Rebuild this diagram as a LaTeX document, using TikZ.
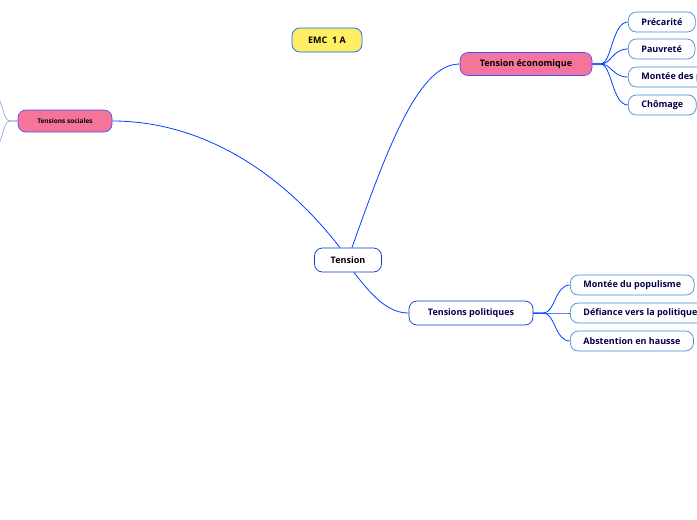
\documentclass[tikz,border=0pt]{standalone}
\usepackage{fontspec}
\setmainfont{Open Sans}
\begin{document}
\begin{tikzpicture}[x=1pt,y=-1pt,
  box/.style={draw=blue!70!cyan!80!black, line width=0.7pt, rounded corners=8pt, fill=white, minimum height=21pt, font=\fontsize{9}{10}\selectfont\bfseries, text=blue!30!black, inner xsep=9pt},
  pink/.style={box, fill=magenta!60!red!55, draw=blue!70, text=black, minimum height=23pt},
  leaf/.style={box, draw=cyan!60!blue!80, anchor=west, minimum height=20pt, inner xsep=13pt},
  link/.style={draw=blue!75!cyan, line width=0.8pt},
  thin/.style={draw=cyan!40!blue!50, line width=0.6pt}]
\useasboundingbox (0,0) rectangle (697,520);
\clip (0,0) rectangle (697,520);
\fill[white] (0,0) rectangle (697,520);
\node[box, fill=yellow!85!orange!60, draw=blue!60!cyan, minimum width=70pt, minimum height=24pt, text=black] (emc) at (327,40) {EMC\ \ 1 A};
\node[box, minimum width=67pt, minimum height=24pt, text=black] (t) at (348,260) {Tension};
\node[pink, minimum width=132pt] (eco) at (526,64) {Tension économique};
\node[pink, minimum width=94pt, minimum height=22pt, font=\fontsize{6.5}{7}\selectfont\bfseries] (soc) at (65,121) {Tensions sociales};
\node[box, minimum width=124pt, minimum height=24pt] (pol) at (471,313) {Tensions politiques};
\node[leaf] (p1) at (628,22) {Précarité};
\node[leaf] (p2) at (628,49) {Pauvreté};
\node[leaf] (p3) at (628,77) {Montée des prix};
\node[leaf] (p4) at (628,105) {Chômage};
\node[leaf] (q1) at (570,285) {Montée du populisme};
\node[leaf] (q2) at (570,313) {Défiance vers la politique};
\node[leaf] (q3) at (570,341) {Abstention en hausse};
\coordinate (sa) at (-10,90); \coordinate (sb) at (-10,152);
\draw[link] (t.north) ++(4,0) .. controls (390,140) and (420,64) .. (eco.west);
\draw[link] (t.north) ++(-8,0) .. controls (280,170) and (200,121) .. (soc.east);
\draw[link] (t.south) ++(6,0) .. controls (375,300) and (390,313) .. (pol.west);
\foreach \c in {p1,p2,p3,p4}{\draw[link] (eco.east) -- ++(8,0) .. controls (612,64) and (612,0 |- \c.west) .. (\c.west);}
\foreach \c in {q1,q2,q3}{\draw[link] (pol.east) -- ++(10,0) .. controls (555,313) and (555,0 |- \c.west) .. (\c.west);}
\draw[thin] (soc.west) -- ++(-8,0) .. controls (2,121) and (4,95) .. (sa);
\draw[thin] (soc.west) -- ++(-8,0) .. controls (2,121) and (4,148) .. (sb);
\end{tikzpicture}
\end{document}
